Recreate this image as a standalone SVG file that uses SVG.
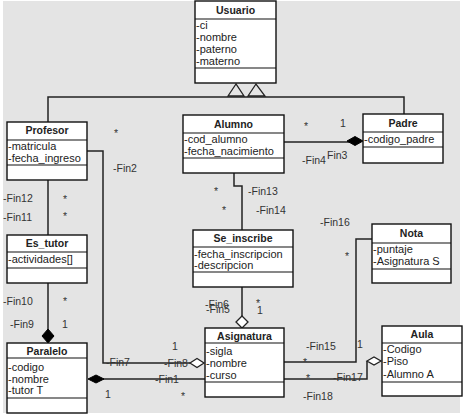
<svg xmlns="http://www.w3.org/2000/svg" width="466" height="416" viewBox="0 0 466 416">
<style>
.box{fill:#fff;stroke:#111;stroke-width:1.4}
.sep{stroke:#111;stroke-width:1.2}
.t{font-family:"Liberation Sans",Arial,sans-serif;font-size:10.5px;font-weight:bold;fill:#222;text-anchor:middle}
.a{font-family:"Liberation Sans",Arial,sans-serif;font-size:11px;fill:#222}
.l{font-family:"Liberation Sans",Arial,sans-serif;font-size:10.5px;fill:#333}
.m{font-family:"Liberation Sans",Arial,sans-serif;font-size:10.5px;fill:#333;text-anchor:middle}
.c{fill:none;stroke:#222;stroke-width:1.5}
.fd{fill:#000;stroke:#000;stroke-width:1}
.hd{fill:#fff;stroke:#222;stroke-width:1.3}
.tri{fill:#e4e4e4;stroke:#222;stroke-width:1.3}
</style>
<rect x="0" y="0" width="466" height="416" fill="#fff"/>
<rect x="3" y="1" width="457" height="412" fill="#e4e4e4"/>

<g id="connectors">
  <path class="c" d="M48,122 V97 H404 V114"/>
  <polygon class="tri" points="236,84 228,96 244,96"/>
  <polygon class="tri" points="256,84 248,96 265,96"/>
  <path class="c" d="M284,142 H350"/>
  <polygon class="fd" points="347,141 355,136.5 363,141 355,145.5"/>
  <path class="c" d="M87,151 H103 V363 H190"/>
  <polygon class="hd" points="190,363 197,358.5 204,363 197,367.5"/>
  <path class="c" d="M48,180 V235"/>
  <path class="c" d="M48,283 V330"/>
  <polygon class="fd" points="48,329 54,336 48,343 42,336"/>
  <path class="c" d="M103,379 H205"/>
  <polygon class="fd" points="88,379 96,375 104,379 96,383"/>
  <path class="c" d="M234,173 V186 H242 V230"/>
  <path class="c" d="M242,287 V316"/>
  <polygon class="hd" points="242,316 248,322 242,328 236,322"/>
  <path class="c" d="M284,362 H356 V239 H372"/>
  <path class="c" d="M284,379 H367 V361"/>
  <polygon class="hd" points="367,361 374,357 381,361 374,365"/>

  <text class="m" x="116" y="137">*</text>
  <text class="m" x="306" y="130">*</text>
  <text class="m" x="343" y="127">1</text>
  <text class="m" x="65" y="203">*</text>
  <text class="m" x="65" y="220">*</text>
  <text class="m" x="65" y="305">*</text>
  <text class="m" x="65" y="328">1</text>
  <text class="m" x="216" y="195">*</text>
  <text class="m" x="224" y="214">*</text>
  <text class="m" x="258" y="307">*</text>
  <text class="m" x="260" y="314">1</text>
  <text class="m" x="347" y="260">*</text>
  <text class="m" x="360" y="348">1</text>
  <text class="m" x="305" y="366">*</text>
  <text class="m" x="308" y="382">*</text>
  <text class="m" x="175" y="350">1</text>
  <text class="m" x="108" y="398">1</text>
  <text class="m" x="183" y="400">*</text>

  <text class="l" x="113" y="172">-Fin2</text>
  <text class="l" x="302" y="164">-Fin4</text>
  <text class="l" x="327" y="159">Fin3</text>
  <text class="l" x="3" y="202">-Fin12</text>
  <text class="l" x="3" y="221">-Fin11</text>
  <text class="l" x="248" y="195">-Fin13</text>
  <text class="l" x="256" y="214">-Fin14</text>
  <text class="l" x="320" y="226">-Fin16</text>
  <text class="l" x="3" y="305">-Fin10</text>
  <text class="l" x="10" y="328">-Fin9</text>
  <text class="l" x="205" y="308">-Fin6</text>
  <text class="l" x="206" y="313">-Fin5</text>
  <text class="l" x="106" y="366">-Fin7</text>
  <text class="l" x="164" y="367">-Fin8</text>
  <text class="l" x="155" y="383">-Fin1</text>
  <text class="l" x="306" y="350">-Fin15</text>
  <text class="l" x="333" y="381">-Fin17</text>
  <text class="l" x="303" y="400">-Fin18</text>
</g>

<g id="Usuario">
  <rect class="box" x="195" y="1" width="81" height="82"/>
  <line class="sep" x1="195" y1="19" x2="276" y2="19"/>
  <line class="sep" x1="195" y1="68" x2="276" y2="68"/>
  <text class="t" x="235.5" y="14">Usuario</text>
  <text class="a" x="196" y="29">-ci</text>
  <text class="a" x="196" y="41">-nombre</text>
  <text class="a" x="196" y="53">-paterno</text>
  <text class="a" x="196" y="65">-materno</text>
</g>

<g id="Profesor">
  <rect class="box" x="7" y="122" width="80" height="58"/>
  <line class="sep" x1="7" y1="140" x2="87" y2="140"/>
  <line class="sep" x1="7" y1="165" x2="87" y2="165"/>
  <text class="t" x="47" y="134">Profesor</text>
  <text class="a" x="8" y="150">-matricula</text>
  <text class="a" x="8" y="162">-fecha_ingreso</text>
</g>

<g id="Alumno">
  <rect class="box" x="183" y="115" width="101" height="58"/>
  <line class="sep" x1="183" y1="133" x2="284" y2="133"/>
  <line class="sep" x1="183" y1="158" x2="284" y2="158"/>
  <text class="t" x="233.5" y="128">Alumno</text>
  <text class="a" x="184" y="143">-cod_alumno</text>
  <text class="a" x="184" y="155">-fecha_nacimiento</text>
</g>

<g id="Padre">
  <rect class="box" x="363" y="114" width="80" height="49"/>
  <line class="sep" x1="363" y1="132" x2="443" y2="132"/>
  <line class="sep" x1="363" y1="147" x2="443" y2="147"/>
  <text class="t" x="403" y="127">Padre</text>
  <text class="a" x="364" y="143">-codigo_padre</text>
</g>

<g id="Es_tutor">
  <rect class="box" x="7" y="235" width="80" height="48"/>
  <line class="sep" x1="7" y1="252" x2="87" y2="252"/>
  <line class="sep" x1="7" y1="268" x2="87" y2="268"/>
  <text class="t" x="47" y="247">Es_tutor</text>
  <text class="a" x="8" y="263">-actividades[]</text>
</g>

<g id="Se_inscribe">
  <rect class="box" x="193" y="230" width="100" height="57"/>
  <line class="sep" x1="193" y1="247" x2="293" y2="247"/>
  <line class="sep" x1="193" y1="272" x2="293" y2="272"/>
  <text class="t" x="243" y="242">Se_inscribe</text>
  <text class="a" x="194" y="258">-fecha_inscripcion</text>
  <text class="a" x="194" y="269">-descripcion</text>
</g>

<g id="Nota">
  <rect class="box" x="372" y="224" width="79" height="59"/>
  <line class="sep" x1="372" y1="243" x2="451" y2="243"/>
  <line class="sep" x1="372" y1="269" x2="451" y2="269"/>
  <text class="t" x="411.5" y="237">Nota</text>
  <text class="a" x="373" y="253">-puntaje</text>
  <text class="a" x="373" y="265">-Asignatura S</text>
</g>

<g id="Paralelo">
  <rect class="box" x="7" y="343" width="80" height="70"/>
  <line class="sep" x1="7" y1="358" x2="87" y2="358"/>
  <line class="sep" x1="7" y1="398" x2="87" y2="398"/>
  <text class="t" x="47" y="355">Paralelo</text>
  <text class="a" x="8" y="371">-codigo</text>
  <text class="a" x="8" y="383">-nombre</text>
  <text class="a" x="8" y="394">-tutor T</text>
</g>

<g id="Asignatura">
  <rect class="box" x="205" y="328" width="79" height="69"/>
  <line class="sep" x1="205" y1="343" x2="284" y2="343"/>
  <line class="sep" x1="205" y1="382" x2="284" y2="382"/>
  <text class="t" x="244.5" y="340">Asignatura</text>
  <text class="a" x="206" y="355">-sigla</text>
  <text class="a" x="206" y="367">-nombre</text>
  <text class="a" x="206" y="379">-curso</text>
</g>

<g id="Aula">
  <rect class="box" x="382" y="326" width="80" height="70"/>
  <line class="sep" x1="382" y1="343" x2="462" y2="343"/>
  <line class="sep" x1="382" y1="382" x2="462" y2="382"/>
  <text class="t" x="422" y="338">Aula</text>
  <text class="a" x="383" y="353">-Codigo</text>
  <text class="a" x="383" y="365">-Piso</text>
  <text class="a" x="383" y="378">-Alumno A</text>
</g>
</svg>
